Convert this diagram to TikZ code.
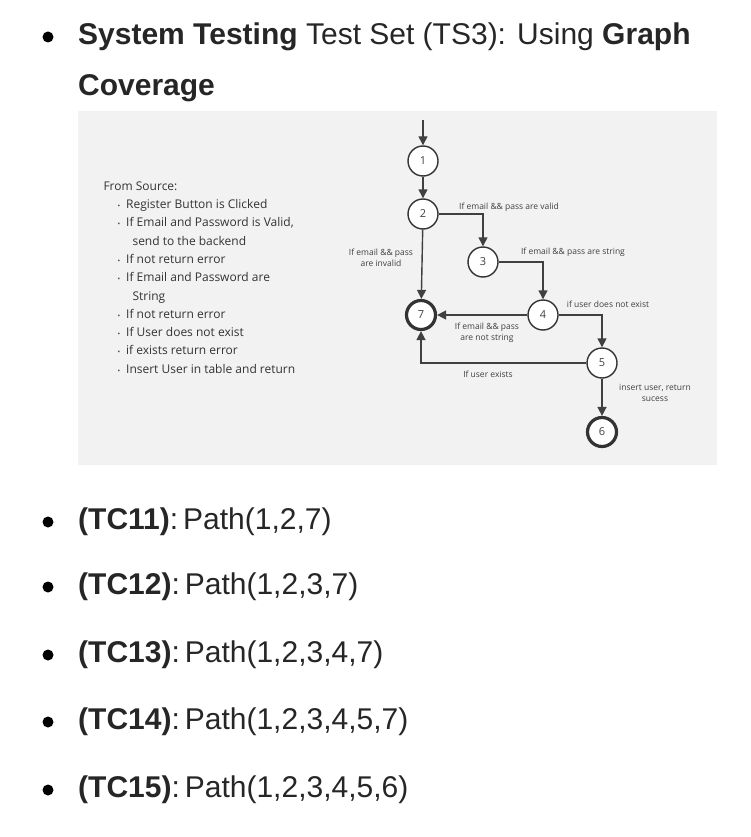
\documentclass[tikz,border=0pt]{standalone}
\usepackage{fontspec}
\setmainfont{Liberation Sans}
\newfontfamily\diag{Open Sans}
\usetikzlibrary{arrows.meta}
\newcommand{\lbul}{\hspace*{14pt}{\scriptsize\textbullet}\hspace{6pt}}
\begin{document}
\begin{tikzpicture}[x=1pt,y=-1pt,
  st/.style={circle,draw=black!80,line width=1.4pt,minimum size=30pt,inner sep=0pt,fill=white,font=\diag\fontsize{11}{12}\selectfont,text=black!75},
  fin/.style={st,line width=3.2pt,minimum size=29pt},
  ed/.style={draw=black!75,line width=1.4pt,-{Triangle[length=9pt,width=9pt]}},
  lb/.style={font=\diag\fontsize{8.5}{11}\selectfont,text=black!75,align=center},
  head/.style={anchor=west,inner sep=0pt,font=\fontsize{30}{34}\selectfont,text=black!85},
  dot/.style={circle,fill=black,inner sep=0pt,minimum size=11pt}]
\useasboundingbox (0,0) rectangle (750,837);
\fill[white] (0,0) rectangle (750,837);
\fill[black!5] (78,111) rectangle (717,465);
% header
\node[dot] (b0) at (48,37) {};
\node[head] (h1) at (78,37) {\textbf{System Testing} Test Set (TS3): Using \textbf{Graph}};
\node[head] (h2) at (78,88) {\textbf{Coverage}};
% list
\node[anchor=north west,font=\diag\fontsize{12}{18.3}\selectfont,text=black!80,align=left] (src) at (100,178) {From Source:\\
\lbul Register Button is Clicked\\
\lbul If Email and Password is Valid,\\
\hspace*{29pt}send to the backend\\
\lbul If not return error\\
\lbul If Email and Password are\\
\hspace*{29pt}String\\
\lbul If not return error\\
\lbul If User does not exist\\
\lbul if exists return error\\
\lbul Insert User in table and return};
% graph
\coordinate (s) at (423,120);
\node[st] (n1) at (423,161) {1};
\node[st] (n2) at (423,214) {2};
\node[st] (n3) at (483,262) {3};
\node[st] (n4) at (543,315) {4};
\node[fin] (n7) at (421,315) {7};
\node[st] (n5) at (602,363) {5};
\node[fin] (n6) at (602,432) {6};
\draw[ed] (s) -- (n1);
\draw[ed] (n1) -- (n2);
\draw[ed] (n2) -| (n3);
\draw[ed] (n3) -| (n4);
\draw[ed] (n2) -- (n7);
\draw[ed] (n4) -- (n7);
\draw[ed] (n4) -| (n5);
\draw[ed] (n5) -| (n7);
\draw[ed] (n5) -- (n6);
\node[lb] (l1) at (509,207) {If email \&\& pass are valid};
\node[lb] (l2) at (573,252) {If email \&\& pass are string};
\node[lb] (l3) at (381,258) {If email \&\& pass\\are invalid};
\node[lb] (l4) at (487,333) {If email \&\& pass\\are not string};
\node[lb] (l5) at (608,304) {if user does not exist};
\node[lb] (l6) at (488,374) {If user exists};
\node[lb] (l7) at (655,393) {insert user, return\\sucess};
% test cases
\foreach \y/\t/\p in {522/11/{1,2,7},587/12/{1,2,3,7},655/13/{1,2,3,4,7},722/14/{1,2,3,4,5,7},790/15/{1,2,3,4,5,6}}{
  \node[dot] (d\t) at (48,\y) {};
  \node[head] (t\t) at (78,\y) {\textbf{(TC\t)}:\,Path(\p)};
}
\end{tikzpicture}
\end{document}
